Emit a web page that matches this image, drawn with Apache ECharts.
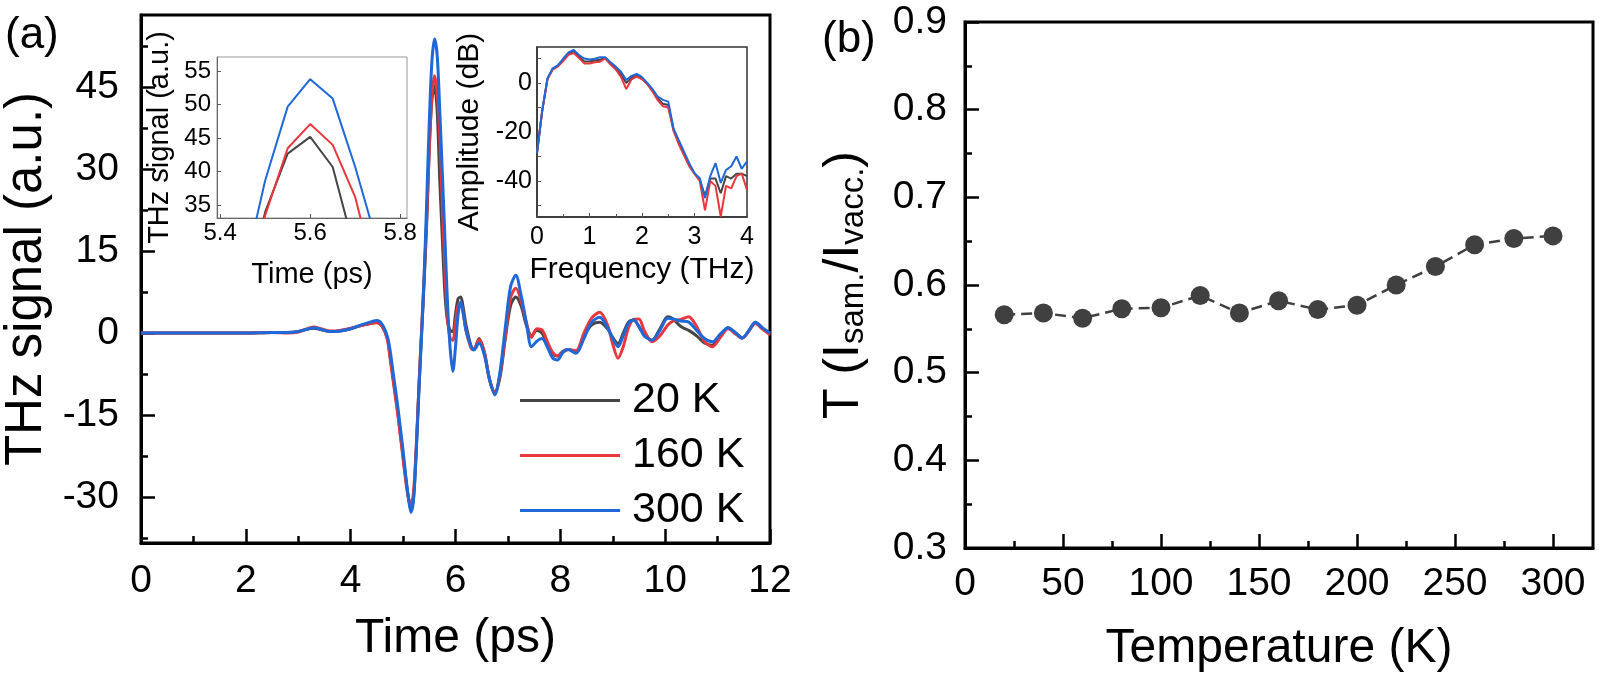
<!DOCTYPE html>
<html>
<head>
<meta charset="utf-8">
<script src="https://cdn.jsdelivr.net/npm/echarts@6/dist/echarts.min.js"></script>
<style>
  html, body { margin: 0; padding: 0; background: #fff; }
  #thzChart { width: 1600px; height: 680px; }
</style>
</head>
<body>
<div id="thzChart"></div>
<script>
// --- (a) THz time-domain waveforms ---
const timePs = [0, 0.5, 1, 1.5, 2, 2.5, 2.8, 3.0, 3.2, 3.3, 3.4, 3.6, 3.8, 4.0, 4.2, 4.4, 4.5, 4.6, 4.7,
  4.75, 4.8, 4.85, 4.9, 4.95, 5.0, 5.05, 5.1, 5.15, 5.2, 5.25, 5.3, 5.35, 5.4, 5.45, 5.5, 5.55, 5.6,
  5.65, 5.7, 5.75, 5.8, 5.85, 5.9, 5.95, 6.0, 6.05, 6.1, 6.15, 6.2, 6.3, 6.35, 6.45, 6.55, 6.65, 6.75,
  6.85, 6.95, 7.05, 7.15, 7.25, 7.35, 7.45, 7.55, 7.65, 7.75, 7.85, 7.95, 8.05, 8.15, 8.3, 8.45, 8.6,
  8.75, 8.9, 9.0, 9.1, 9.2, 9.3, 9.4, 9.5, 9.6, 9.75, 9.9, 10.05, 10.15, 10.3, 10.45, 10.6, 10.75,
  10.9, 11.05, 11.2, 11.35, 11.47, 11.6, 11.72, 11.85, 12.0]
const signal20K = [0, 0, 0, 0, 0, 0.1, 0.1, 0.3, 0.8, 0.9, 0.7, 0.3, 0.4, 0.8, 1.4, 1.8, 2.0, 1.3, -0.9,
  -4, -7.5, -11, -14.5, -18.5, -22.5, -26.5, -30, -32.2, -30, -21.5, -10.5, -0.5, 9, 20, 34, 42.7, 45.2,
  40.7, 28, 17, 7, 2, 0.5, 0.3, 3.5, 6.3, 6.6, 4.5, 1.5, -2.5, -3, -1, -3.5, -8.5, -11,
  -8, -1, 5, 6.6, 5, 1.5, -0.5, 0.5, 0, -2, -3.8, -4.2, -3.3, -3, -3.5, -0.5, 1.5,
  2.0, 0.8, -0.8, -1.9, 0, 2, 2.4, 1.2, -0.3, -1.3, 0.8, 3.0, 2.6, 1.2, 0.5, -0.5, -1.8,
  -2.2, -0.5, 1, 0, -0.9, 0.5, 2, 1, 0]
const signal160K = [0, 0, 0, 0, 0, 0.1, 0, 0.2, 0.9, 1.1, 0.9, 0.4, 0.5, 0.9, 1.4, 1.8, 1.9, 1.2, -1.2,
  -4.5, -8, -11.5, -15, -19, -23, -27, -30, -31.5, -29, -21, -10, 0, 10, 21, 33.5, 43.5, 47.1,
  44.0, 36.2, 23, 11, 2.5, -1, -1.3, 2, 5, 5.5, 3.5, 0.5, -2.8, -3, -1.2, -3.5, -8.5, -11,
  -7.5, -0.5, 6.5, 8.2, 6, 2, -0.8, 0.8, 0.6, -1.5, -3.5, -4.2, -3.5, -3, -3.2, 0, 2.8,
  3.8, 1.5, -2, -4.6, -2.5, 1, 2.5, 2.6, 0.5, -1.6, -0.5, 1.5, 2.2, 2.5, 3, 1.2, -1.5,
  -2.5, -0.8, 0.8, -0.2, -0.9, 0.4, 1.8, 0.8, -0.3]
const signal300K = [0, 0, 0, 0, 0, 0.1, 0.1, 0.3, 0.8, 1.0, 0.8, 0.3, 0.4, 0.8, 1.5, 2.1, 2.3, 1.6, -0.6,
  -3, -6.5, -10, -13.5, -17.5, -21.5, -26, -30, -32.8, -30.5, -22, -11, -1, 10, 24, 38.7, 49.7, 53.8,
  50.9, 40.7, 29, 17, 5, -3, -7, -2.5, 3.5, 5.7, 3.5, 0.5, -2.5, -3.1, -1.8, -4, -8.5, -11.3,
  -7, 1, 8.5, 10.6, 7, 2, -2.5, -1.5, -1, -2.5, -4.5, -4.9, -3.5, -3, -3.7, -1, 2,
  2.9, 1, -1, -2.5, -0.5, 1.8, 2.4, 1.2, -0.5, -1.3, 0.5, 2.7, 2.6, 2.2, 2, 0.5, -1,
  -1.6, -0.2, 1, 0, -0.9, 0.5, 2, 1, 0]

// --- inset: amplitude spectra ---
const freqTHz = [0, 0.1, 0.2, 0.3, 0.4, 0.5, 0.6, 0.7, 0.8, 0.9, 1.0, 1.1, 1.2, 1.3, 1.4, 1.5, 1.6, 1.7,
  1.8, 1.9, 2.0, 2.1, 2.2, 2.3, 2.4, 2.5, 2.6, 2.7, 2.8, 2.9, 3.0, 3.1, 3.2, 3.3, 3.4, 3.5, 3.6, 3.7,
  3.8, 3.9, 4.0]
const amp20K = [-28.5, -11.2, 1.8, 5.8, 7, 9.5, 12, 13, 10.8, 8.8, 8.8, 9.2, 9.5, 10.2, 8, 6, 3.5, 0,
  2.2, 3.2, 2, -0.3, -3, -6.3, -8.5, -9, -19, -24, -29, -33.5, -37, -39.5, -46, -39, -39, -45, -38, -39,
  -37, -37, -38]
const amp160K = [-28.5, -11.5, 1.5, 5.5, 6.8, 9, 11.5, 12.2, 10.2, 8, 8, 8.5, 8.7, 10, 7.5, 5.5, 2.5, -2.5,
  1.5, 2.6, 1.5, -0.5, -3.5, -7, -9.5, -10, -19.5, -25, -29.5, -34, -37, -40, -52, -40, -42, -54.5, -42, -43,
  -38, -37, -43.7]
const amp300K = [-28.7, -11, 2, 6, 7.3, 10, 12.5, 13.5, 11.4, 10, 9.6, 9.9, 10.5, 10.5, 8.5, 6.7, 4.6, 1.2,
  2.9, 3.7, 2.4, 0, -2.5, -5.6, -6.9, -7.6, -18.5, -23.3, -28, -32.7, -36.8, -38.9, -47, -38, -32.7, -40.8, -35.5, -34,
  -30, -35, -32]

// --- (b) transmission vs temperature ---
const tempK = [20, 40, 60, 80, 100, 120, 140, 160, 180, 200, 220, 240, 260, 280, 300]
const transmission = [0.566, 0.568, 0.562, 0.573, 0.574, 0.588, 0.568, 0.582, 0.572, 0.577, 0.600, 0.621,
  0.646, 0.653, 0.656]

// tick labels
const mainYTicks = [-30, -15, 0, 15, 30, 45]
const mainYMinor = [-37.5, -22.5, -7.5, 7.5, 22.5, 37.5, 52.5]
const zoomXTicks = [5.4, 5.6, 5.8]
const zoomYTicks = [35, 40, 45, 50, 55]
const specYTicks = [-40, -20, 0]
const specYMinor = [-50, -30, -10, 10]
const tempXTicks = [0, 50, 100, 150, 200, 250, 300]
const tempXMinor = [25, 75, 125, 175, 225, 275]
const transYTicks = [0.3, 0.4, 0.5, 0.6, 0.7, 0.8, 0.9]
const transYMinor = [0.35, 0.45, 0.55, 0.65, 0.75, 0.85]

const seriesNames = ['20 K', '160 K', '300 K']
const lineColors = ['#454545', '#e8373d', '#1f68d8']

const FONT = 'Liberation Sans, Arial, sans-serif'
const zip = (xs, ys) => xs.map((x, i) => [x, ys[i]])

function frameAxis(extra) {
  return Object.assign({
    type: 'value',
    axisLine: { show: true, onZero: false, lineStyle: { color: '#000', width: 3 } },
    axisTick: { inside: true, length: 14, lineStyle: { color: '#000', width: 2.5 } },
    axisLabel: { color: '#000', fontSize: 39, fontFamily: FONT },
    splitLine: { show: false },
    nameLocation: 'middle',
    nameTextStyle: { color: '#000', fontSize: 48, fontFamily: FONT }
  }, extra)
}

function minorAxis(extra, values) {
  return Object.assign({
    type: 'value',
    axisLine: { show: false, onZero: false },
    axisLabel: { show: false },
    splitLine: { show: false },
    axisTick: { inside: true, length: 7, customValues: values, lineStyle: { color: '#000', width: 2.5 } }
  }, extra)
}

function insetAxis(extra) {
  return Object.assign({
    type: 'value',
    axisLine: { show: true, onZero: false, lineStyle: { color: '#666', width: 1 } },
    axisTick: { inside: true, length: 4, lineStyle: { color: '#555', width: 1 } },
    axisLabel: { color: '#000', fontSize: 24, fontFamily: FONT },
    splitLine: { show: false },
    nameLocation: 'middle',
    nameTextStyle: { color: '#000', fontSize: 29, fontFamily: FONT }
  }, extra)
}

const chartDom = document.getElementById('thzChart')
const thzChart = echarts.init(chartDom)

const waveSeries = [signal20K, signal160K, signal300K]
const ampSeries = [amp20K, amp160K, amp300K]

const series = []
waveSeries.forEach((vals, i) => {
  series.push({
    name: seriesNames[i], type: 'line', xAxisIndex: 0, yAxisIndex: 0,
    data: zip(timePs, vals), showSymbol: false, symbol: 'none', smooth: 0.3,
    lineStyle: { color: lineColors[i], width: 3 }, itemStyle: { color: lineColors[i] }
  })
})
waveSeries.forEach((vals, i) => {
  series.push({
    name: seriesNames[i], type: 'line', xAxisIndex: 1, yAxisIndex: 2, clip: true,
    data: zip(timePs, vals), showSymbol: false, symbol: 'none',
    lineStyle: { color: lineColors[i], width: 2 }, itemStyle: { color: lineColors[i] }
  })
})
ampSeries.forEach((vals, i) => {
  series.push({
    name: seriesNames[i], type: 'line', xAxisIndex: 2, yAxisIndex: 3, clip: true,
    data: zip(freqTHz, vals), showSymbol: false, symbol: 'none',
    lineStyle: { color: lineColors[i], width: 2 }, itemStyle: { color: lineColors[i] }
  })
})
series.push({
  name: 'T', type: 'line', xAxisIndex: 3, yAxisIndex: 4,
  data: zip(tempK, transmission), symbol: 'circle', symbolSize: 19,
  itemStyle: { color: '#404040' },
  lineStyle: { color: '#404040', width: 2.5, type: [11, 6] }
})

const option = {
  animation: false,
  backgroundColor: '#fff',
  textStyle: { fontFamily: FONT },
  grid: [
    { left: 140, top: 15, width: 630, height: 528, show: true, borderColor: '#000', borderWidth: 3 },
    { left: 217, top: 57, width: 190, height: 161, show: true, borderColor: '#999', borderWidth: 1 },
    { left: 537, top: 47, width: 210, height: 170, show: true, borderColor: '#333', borderWidth: 1.5 },
    { left: 965, top: 22, width: 628, height: 526, show: true, borderColor: '#000', borderWidth: 3 }
  ],
  xAxis: [
    frameAxis({
      gridIndex: 0, position: 'bottom', min: 0, max: 12, interval: 2,
      minorTick: { show: true, splitNumber: 2, length: 7, lineStyle: { color: '#000', width: 2.5 } },
      axisLabel: { color: '#000', fontSize: 39, fontFamily: FONT, margin: 19 },
      name: 'Time (ps)', nameGap: 72
    }),
    insetAxis({
      gridIndex: 1, position: 'bottom', min: 5.393, max: 5.815,
      axisLabel: { color: '#000', fontSize: 24, fontFamily: FONT, margin: 3, customValues: zoomXTicks,
        formatter: v => v.toFixed(1) },
      axisTick: { inside: true, length: 4, customValues: zoomXTicks, lineStyle: { color: '#555', width: 1 } },
      name: 'Time (ps)', nameGap: 42
    }),
    insetAxis({
      gridIndex: 2, position: 'bottom', min: 0, max: 4, interval: 1,
      axisLine: { show: true, onZero: false, lineStyle: { color: '#333', width: 1.5 } },
      minorTick: { show: true, splitNumber: 2, length: 3, lineStyle: { color: '#555', width: 1 } },
      axisLabel: { color: '#000', fontSize: 25, fontFamily: FONT, margin: 8 },
      name: 'Frequency (THz)', nameGap: 38,
      nameTextStyle: { color: '#000', fontSize: 30, fontFamily: FONT }
    }),
    frameAxis({
      gridIndex: 3, position: 'bottom', min: 0, max: 320.4,
      axisLabel: { color: '#000', fontSize: 39, fontFamily: FONT, margin: 17, customValues: tempXTicks },
      axisTick: { inside: true, length: 14, customValues: tempXTicks, lineStyle: { color: '#000', width: 2.5 } },
      name: 'Temperature (K)', nameGap: 77
    }),
    minorAxis({ gridIndex: 3, position: 'bottom', min: 0, max: 320.4 }, tempXMinor)
  ],
  yAxis: [
    frameAxis({
      gridIndex: 0, position: 'left', min: -38.4, max: 58.2,
      axisLabel: { color: '#000', fontSize: 39, fontFamily: FONT, margin: 22, customValues: mainYTicks },
      axisTick: { inside: true, length: 14, customValues: mainYTicks, lineStyle: { color: '#000', width: 2.5 } },
      name: 'THz signal (a.u.)', nameGap: 89,
      nameTextStyle: { color: '#000', fontSize: 51, fontFamily: FONT }
    }),
    minorAxis({ gridIndex: 0, position: 'left', min: -38.4, max: 58.2 }, mainYMinor),
    insetAxis({
      gridIndex: 1, position: 'left', min: 33.1, max: 57.1,
      axisLabel: { color: '#000', fontSize: 24, fontFamily: FONT, margin: 6, customValues: zoomYTicks },
      axisTick: { inside: true, length: 4, customValues: zoomYTicks, lineStyle: { color: '#555', width: 1 } },
      name: 'THz signal (a.u.)', nameGap: 43,
      nameTextStyle: { color: '#000', fontSize: 29, fontFamily: FONT }
    }),
    insetAxis({
      gridIndex: 2, position: 'left', min: -54.7, max: 14.7,
      axisLine: { show: true, onZero: false, lineStyle: { color: '#333', width: 1.5 } },
      axisLabel: { color: '#000', fontSize: 25, fontFamily: FONT, margin: 5, customValues: specYTicks },
      axisTick: { inside: true, length: 4, customValues: specYTicks.concat(specYMinor), lineStyle: { color: '#555', width: 1 } },
      name: 'Amplitude (dB)', nameGap: 52,
      nameTextStyle: { color: '#000', fontSize: 30, fontFamily: FONT }
    }),
    frameAxis({
      gridIndex: 3, position: 'left', min: 0.3, max: 0.9,
      axisLabel: { color: '#000', fontSize: 39, fontFamily: FONT, margin: 18, customValues: transYTicks,
        formatter: v => v.toFixed(1) },
      axisTick: { inside: true, length: 14, customValues: transYTicks, lineStyle: { color: '#000', width: 2.5 } },
      name: 'T (I{sub|sam.}/I{sub|vacc.})', nameGap: 95,
      nameTextStyle: {
        color: '#000', fontSize: 50, fontFamily: FONT,
        rich: { sub: { fontSize: 33, fontFamily: FONT, color: '#000', verticalAlign: 'bottom', padding: [18, 0, 0, 0] } }
      }
    }),
    minorAxis({ gridIndex: 3, position: 'left', min: 0.3, max: 0.9 }, transYMinor)
  ],
  legend: {
    data: seriesNames,
    orient: 'vertical',
    left: 520,
    top: 379,
    padding: 0,
    icon: 'rect',
    itemWidth: 100,
    itemHeight: 3,
    itemGap: 12,
    textStyle: { color: '#000', fontSize: 43, fontFamily: FONT, padding: [0, 0, 0, 7] }
  },
  graphic: [
    { type: 'text', left: 5, top: 14, style: { text: '(a)', fontSize: 44, fontFamily: FONT, fill: '#000' } },
    { type: 'text', left: 822, top: 18, style: { text: '(b)', fontSize: 44, fontFamily: FONT, fill: '#000' } }
  ],
  series: series
}

thzChart.setOption(option)
window.addEventListener('resize', () => thzChart.resize())
</script>
</body>
</html>
